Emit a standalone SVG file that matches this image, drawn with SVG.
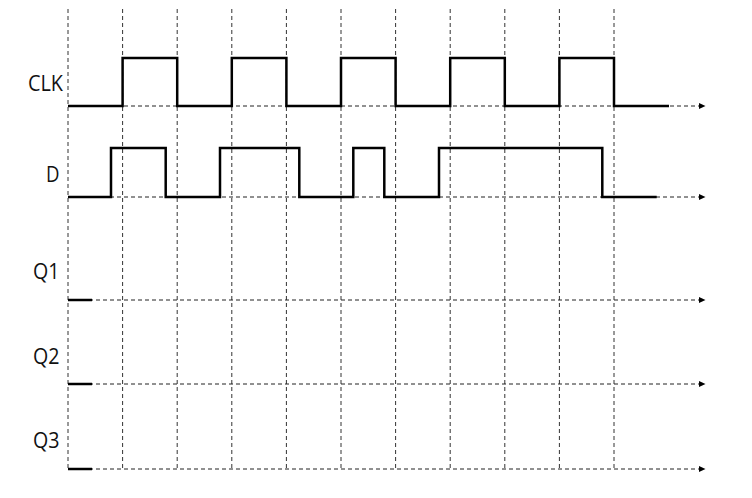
<svg xmlns="http://www.w3.org/2000/svg" width="752" height="498" viewBox="0 0 752 498">
<style>
.grid{stroke:#333;stroke-width:1;stroke-dasharray:4 3;fill:none}
.axis{stroke:#222;stroke-width:1;stroke-dasharray:4 3;fill:none}
.sig{stroke:#000;stroke-width:2.5;fill:none;stroke-linejoin:miter}
.lbl{font-family:"Open Sans","Liberation Sans",Arial,sans-serif;font-size:22px;fill:#111}
</style>
<defs>
<marker id="arr" markerWidth="7" markerHeight="7" refX="6" refY="3.5" orient="auto" markerUnits="userSpaceOnUse">
<path d="M0,0.5 L6.5,3.5 L0,6.5 Z" fill="#000"/>
</marker>
</defs>
<g id="grid">
<line class="grid" x1="68" y1="9" x2="68" y2="470"/>
<line class="grid" x1="122.6" y1="9" x2="122.6" y2="470"/>
<line class="grid" x1="177.2" y1="9" x2="177.2" y2="470"/>
<line class="grid" x1="231.8" y1="9" x2="231.8" y2="470"/>
<line class="grid" x1="286.4" y1="9" x2="286.4" y2="470"/>
<line class="grid" x1="341" y1="9" x2="341" y2="470"/>
<line class="grid" x1="395.6" y1="9" x2="395.6" y2="470"/>
<line class="grid" x1="450.2" y1="9" x2="450.2" y2="470"/>
<line class="grid" x1="504.8" y1="9" x2="504.8" y2="470"/>
<line class="grid" x1="559.4" y1="9" x2="559.4" y2="470"/>
<line class="grid" x1="614" y1="9" x2="614" y2="470"/>
</g>
<g id="connectors">
<line class="axis" x1="68" y1="106" x2="705" y2="106" marker-end="url(#arr)"/>
<line class="axis" x1="68" y1="197" x2="705" y2="197" marker-end="url(#arr)"/>
<line class="axis" x1="68" y1="300" x2="705" y2="300" marker-end="url(#arr)"/>
<line class="axis" x1="68" y1="384" x2="705" y2="384" marker-end="url(#arr)"/>
<line class="axis" x1="68" y1="469" x2="705" y2="469" marker-end="url(#arr)"/>
</g>
<g id="clk">
<text class="lbl" x="28" y="91" textLength="35" lengthAdjust="spacingAndGlyphs">CLK</text>
<path class="sig" d="M68,106 H122.6 V58 H177.2 V106 H231.8 V58 H286.4 V106 H341 V58 H395.6 V106 H450.2 V58 H504.8 V106 H559.4 V58 H614 V106 H669"/>
</g>
<g id="d">
<text class="lbl" x="46" y="182" textLength="13.5" lengthAdjust="spacingAndGlyphs">D</text>
<path class="sig" d="M68,197 H111 V148 H165.7 V197 H220 V148 H299.3 V197 H353.3 V148 H384.3 V197 H439 V148 H602.3 V197 H656.7"/>
</g>
<g id="q1">
<text class="lbl" x="33" y="279" textLength="26.5" lengthAdjust="spacingAndGlyphs">Q1</text>
<line class="sig" x1="68" y1="300" x2="92" y2="300" stroke-width="3"/>
</g>
<g id="q2">
<text class="lbl" x="33" y="363.5" textLength="26.5" lengthAdjust="spacingAndGlyphs">Q2</text>
<line class="sig" x1="68" y1="384" x2="92" y2="384" stroke-width="3"/>
</g>
<g id="q3">
<text class="lbl" x="33" y="448" textLength="26.5" lengthAdjust="spacingAndGlyphs">Q3</text>
<line class="sig" x1="68" y1="469" x2="92" y2="469" stroke-width="3"/>
</g>
</svg>
